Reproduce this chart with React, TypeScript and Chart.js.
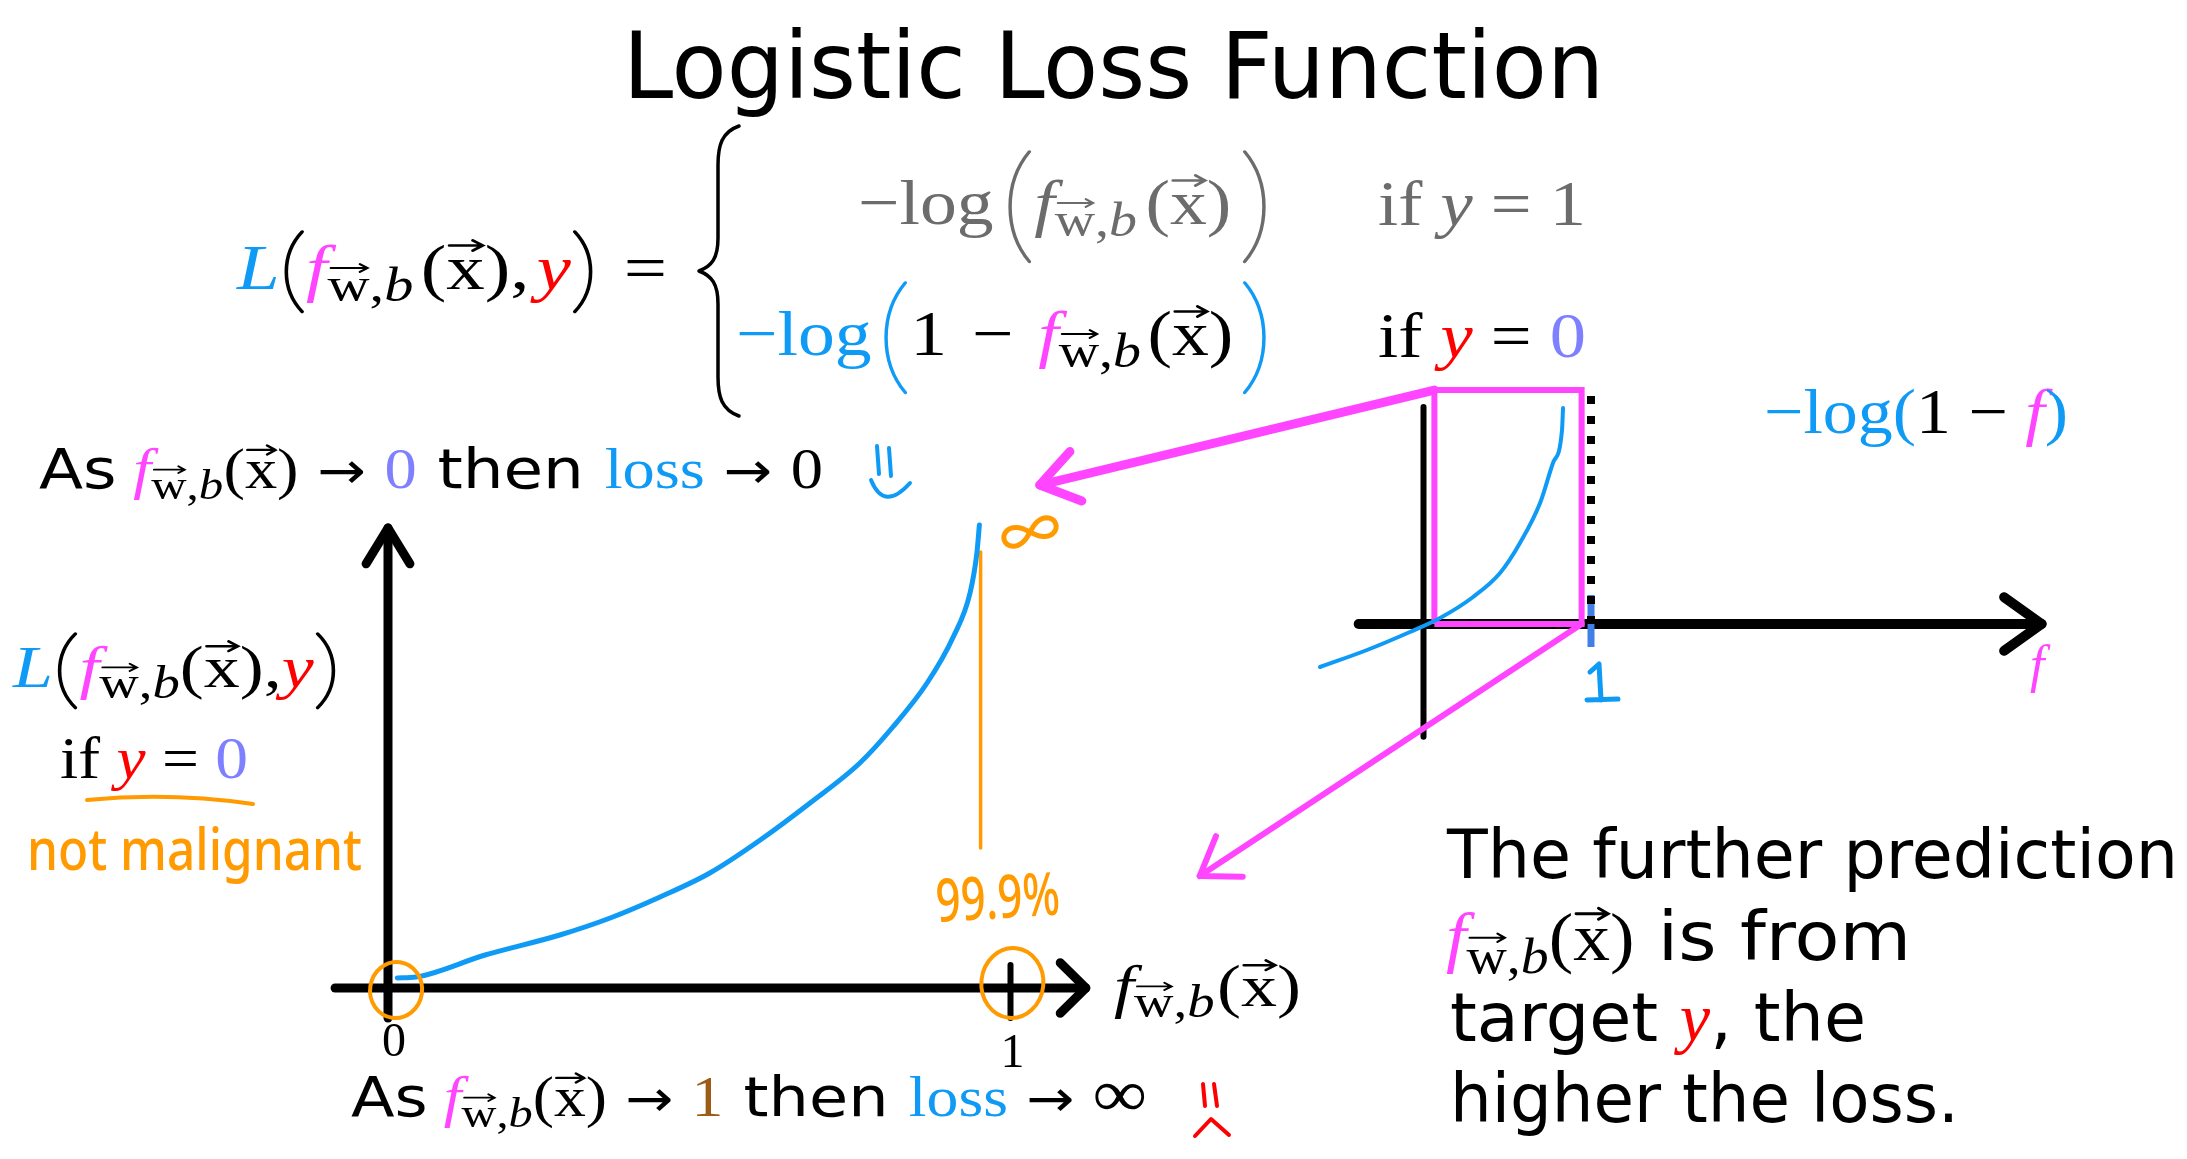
import React, { useEffect, useRef } from 'react';
import { Chart, registerables } from 'chart.js';

Chart.register(...registerables);

const W = 2187;
const H = 1159;

// ---------------- data ----------------
// main chart: loss = -log(1 - f) for y = 0 (hand drawn)
const mainF = [0.015, 0.045, 0.156, 0.276, 0.357, 0.437, 0.517, 0.598, 0.678, 0.758, 0.811, 0.866, 0.908, 0.935, 0.946, 0.95];
const mainLoss = [0.1, 0.11, 0.33, 0.53, 0.7, 0.91, 1.15, 1.48, 1.85, 2.25, 2.61, 3.05, 3.51, 3.95, 4.35, 4.63];
const mainTickValues = [0, 1];
const mainTickLabels = ['0', '1'];
// orange 99.9% guide line
const guideF = [0.952, 0.952];
const guideLoss = [1.4, 4.36];
// inset chart: -log(1 - f)
const insetF = [-0.618, -0.337, -0.081, 0.099, 0.296, 0.457, 0.576, 0.696, 0.773, 0.827, 0.833];
const insetLoss = [-0.43, -0.26, -0.08, 0.06, 0.27, 0.51, 0.81, 1.21, 1.61, 1.94, 2.16];
// pink zoom box in the inset
const zoomBoxF = [0.065, 0.065, 0.944, 0.944, 0.065];
const zoomBoxLoss = [0, 2.34, 2.34, 0, 0];
// dotted asymptote at f = 1 and the blue tick at f = 1
const asymptoteF = [1, 1];
const asymptoteLoss = [0, 2.39];
const insetTickF = [1, 1];
const insetTickLoss = [-0.23, 0.29];

// ---------------- layout / style ----------------
const MAIN = { ox: 388, oy: 988, ux: 622.5, uy: 100 };
const INSET = { ox: 1423.5, oy: 624, ux: 167.5, uy: 100 };

const BLUE = '#0f9bf5';
const PINK = '#ff45ff';
const RED = '#ff0000';
const PURPLE = '#7f80ff';
const ORANGE = '#ff9a00';
const BROWN = '#9a5c16';
const GRAY = '#6c6c6c';

const FAM = {
  sans: "'DejaVu Sans', Verdana, sans-serif",
  serif: "'Liberation Serif', 'DejaVu Serif', serif",
  hand: "'Noto Sans', 'Open Sans', sans-serif",
};

const xRange = (o: any) => ({ min: -o.ox / o.ux, max: (W - o.ox) / o.ux });
const yRange = (o: any) => ({ min: (o.oy - H) / o.uy, max: o.oy / o.uy });

function segFont(seg: any, size: number) {
  const px = size * (seg.s ?? 1);
  const k = seg.k ?? 'serif';
  if (k === 'sans') return `${px}px ${FAM.sans}`;
  if (k === 'ital') return `italic ${px}px ${FAM.serif}`;
  if (k === 'hand') return `500 ${px}px ${FAM.hand}`;
  return `${px}px ${FAM.serif}`;
}

function segWidth(ctx: CanvasRenderingContext2D, seg: any, size: number) {
  if (seg.paren) return seg.pw ?? size * 0.4;
  ctx.font = segFont(seg, size);
  return ctx.measureText(seg.t).width;
}

// draws a row of styled pieces between x0 and x1 (x1 null = natural width)
function drawRich(ctx: CanvasRenderingContext2D, segs: any[], x0: number, x1: number | null, base: number, size: number, rot = 0, maxStretch = 1.15) {
  const widths = segs.map((s) => segWidth(ctx, s, size));
  const total = widths.reduce((a, b) => a + b, 0);
  const nGaps = segs.slice(0, -1).filter((s) => !s.tight).length;
  let gs = 1;
  let gap = 0;
  if (x1 !== null) {
    const sx = (x1 - x0) / total;
    if (nGaps === 0) gs = sx;
    else {
      gs = Math.min(Math.max(sx, 0.7), maxStretch);
      gap = (x1 - x0 - total * gs) / nGaps;
    }
  }
  ctx.save();
  ctx.translate(x0, base);
  if (rot) ctx.rotate(rot);
  ctx.textBaseline = 'alphabetic';
  ctx.textAlign = 'left';
  let cx = 0;
  segs.forEach((seg, i) => {
    const w = widths[i];
    const col = seg.c ?? '#000';
    const dy = (seg.dy ?? 0) * size;
    ctx.save();
    ctx.translate(cx, 0);
    ctx.scale(gs, 1);
    if (seg.paren) {
      const h = seg.ph;
      const cy = -0.27 * size + dy;
      ctx.strokeStyle = col;
      ctx.lineWidth = seg.lw ?? 3;
      ctx.lineCap = 'round';
      ctx.beginPath();
      if (seg.paren === '(') {
        ctx.moveTo(w * 0.85, cy - h / 2);
        ctx.bezierCurveTo(w * 0.05, cy - h * 0.22, w * 0.05, cy + h * 0.22, w * 0.85, cy + h / 2);
      } else {
        ctx.moveTo(w * 0.15, cy - h / 2);
        ctx.bezierCurveTo(w * 0.95, cy - h * 0.22, w * 0.95, cy + h * 0.22, w * 0.15, cy + h / 2);
      }
      ctx.stroke();
    } else {
      ctx.font = segFont(seg, size);
      ctx.fillStyle = col;
      ctx.fillText(seg.t, 0, dy);
      if (seg.vec) {
        const px = size * (seg.s ?? 1);
        const ay = dy - 0.68 * px;
        const lw = Math.max(1.6, px * 0.042);
        ctx.strokeStyle = col;
        ctx.lineWidth = lw;
        ctx.lineCap = 'round';
        ctx.beginPath();
        ctx.moveTo(w * 0.08, ay);
        ctx.lineTo(w * 0.95, ay);
        ctx.moveTo(w * 0.95 - px * 0.13, ay - px * 0.08);
        ctx.lineTo(w * 0.95, ay);
        ctx.lineTo(w * 0.95 - px * 0.13, ay + px * 0.08);
        ctx.stroke();
      }
    }
    ctx.restore();
    cx += w * gs + (i < segs.length - 1 && !seg.tight ? gap : 0);
  });
  ctx.restore();
}

const fwb = (fc: string, tc: string, endTight = false) => [
  { t: 'f', k: 'ital', c: fc, tight: true },
  { t: 'w', c: tc, s: 0.76, dy: 0.19, vec: true, tight: true },
  { t: ',', c: tc, s: 0.76, dy: 0.19, tight: true },
  { t: 'b', k: 'ital', c: tc, s: 0.76, dy: 0.19 },
  { t: '(', c: tc, tight: true },
  { t: 'x', c: tc, vec: true, tight: true },
  { t: ')', c: tc, tight: endTight },
];

const ARROW = { t: ' \u2192 ', k: 'sans', s: 0.9 };

function arrowLine(ctx: CanvasRenderingContext2D, x1: number, y1: number, x2: number, y2: number, lw: number, col: string, head: number, ang: number) {
  ctx.save();
  ctx.strokeStyle = col;
  ctx.lineWidth = lw;
  ctx.lineCap = 'round';
  ctx.lineJoin = 'round';
  ctx.beginPath();
  ctx.moveTo(x1, y1);
  ctx.lineTo(x2, y2);
  ctx.stroke();
  const a = Math.atan2(y1 - y2, x1 - x2);
  ctx.beginPath();
  ctx.moveTo(x2 + head * Math.cos(a - ang), y2 + head * Math.sin(a - ang));
  ctx.lineTo(x2, y2);
  ctx.lineTo(x2 + head * Math.cos(a + ang), y2 + head * Math.sin(a + ang));
  ctx.stroke();
  ctx.restore();
}

function strokePath(ctx: CanvasRenderingContext2D, col: string, lw: number, build: () => void) {
  ctx.save();
  ctx.strokeStyle = col;
  ctx.lineWidth = lw;
  ctx.lineCap = 'round';
  ctx.lineJoin = 'round';
  ctx.beginPath();
  build();
  ctx.stroke();
  ctx.restore();
}

const overlay = {
  id: 'overlay',
  beforeDatasetsDraw(chart: any) {
    const ctx: CanvasRenderingContext2D = chart.ctx;
    const { x, y, x2, y2 } = chart.scales;
    // main axes
    arrowLine(ctx, x.getPixelForValue(0), y.getPixelForValue(-0.3), x.getPixelForValue(0), y.getPixelForValue(4.6), 9, '#000', 42, 0.55);
    arrowLine(ctx, x.getPixelForValue(-0.085), y.getPixelForValue(0), x.getPixelForValue(1.121), y.getPixelForValue(0), 9, '#000', 36, 0.78);
    // tick at 1
    strokePath(ctx, '#000', 6, () => {
      ctx.moveTo(x.getPixelForValue(1), y.getPixelForValue(0.23));
      ctx.lineTo(x.getPixelForValue(1), y.getPixelForValue(-0.3));
    });
    // inset axes
    strokePath(ctx, '#000', 6, () => {
      ctx.moveTo(x2.getPixelForValue(0), y2.getPixelForValue(2.17));
      ctx.lineTo(x2.getPixelForValue(0), y2.getPixelForValue(-1.127));
    });
    arrowLine(ctx, x2.getPixelForValue(-0.387), y2.getPixelForValue(0), x2.getPixelForValue(3.69), y2.getPixelForValue(0), 10, '#000', 46, 0.62);
  },
  afterDatasetsDraw(chart: any) {
    const ctx: CanvasRenderingContext2D = chart.ctx;
    const { x, y, x2, y2 } = chart.scales;

    // tick labels
    ctx.save();
    ctx.fillStyle = '#000';
    ctx.font = `48px ${FAM.serif}`;
    ctx.textAlign = 'center';
    const tickBase = [1056, 1067];
    mainTickValues.forEach((v, i) => {
      ctx.fillText(mainTickLabels[i], x.getPixelForValue(v) + (i === 0 ? 6 : 2), tickBase[i]);
    });
    ctx.restore();

    // orange circles at 0 and 1
    strokePath(ctx, ORANGE, 4, () => {
      ctx.ellipse(x.getPixelForValue(0.013), y.getPixelForValue(-0.02), 26, 28, 0.15, 0, Math.PI * 2);
    });
    strokePath(ctx, ORANGE, 4, () => {
      ctx.ellipse(x.getPixelForValue(1.003), y.getPixelForValue(0.05), 31, 35, 0.1, 0, Math.PI * 2);
    });

    // infinity sign (hand drawn)
    ctx.save();
    ctx.translate(1030, 532);
    ctx.rotate(-0.3);
    strokePath(ctx, ORANGE, 5, () => {
      for (let i = 0; i <= 80; i++) {
        const t = (i / 80) * Math.PI * 2;
        const d = 1 + Math.sin(t) * Math.sin(t);
        const px = (27 * Math.cos(t)) / d;
        const py = (26 * Math.sin(t) * Math.cos(t)) / d;
        if (i === 0) ctx.moveTo(px, py);
        else ctx.lineTo(px, py);
      }
    });
    ctx.restore();

    // pink arrows from inset box to main chart
    arrowLine(ctx, x2.getPixelForValue(0.065), y2.getPixelForValue(2.34), x.getPixelForValue(1.047), y.getPixelForValue(5.03), 9, PINK, 45, 0.6);
    arrowLine(ctx, x2.getPixelForValue(0.944), y2.getPixelForValue(0), x.getPixelForValue(1.304), y.getPixelForValue(1.12), 6, PINK, 43, 0.6);

    // blue hand-drawn "1" at the inset tick
    strokePath(ctx, BLUE, 5, () => {
      ctx.moveTo(1590, 672);
      ctx.lineTo(1599, 664);
      ctx.lineTo(1601, 700);
      ctx.moveTo(1587, 700);
      ctx.lineTo(1618, 699);
    });

    // ---- text ----
    drawRich(ctx, [{ t: 'Logistic Loss Function', k: 'sans' }], 623, 1604, 98, 92);

    // definition
    drawRich(ctx, [
      { t: 'L', k: 'ital', c: BLUE, tight: true },
      { paren: '(', ph: 80, pw: 22, tight: true },
      ...fwb(PINK, '#000', true),
      { t: ',' },
      { t: 'y', k: 'ital', c: RED, tight: true },
      { paren: ')', ph: 80, pw: 22 },
      { t: ' ', tight: true },
      { t: '=' },
    ], 237, 667, 289, 64, 0, 1.2);

    // curly brace
    strokePath(ctx, '#000', 3.5, () => {
      ctx.moveTo(739, 126);
      ctx.bezierCurveTo(722, 132, 718, 145, 718, 165);
      ctx.lineTo(718, 238);
      ctx.bezierCurveTo(718, 258, 712, 266, 699, 271);
      ctx.bezierCurveTo(712, 276, 718, 284, 718, 304);
      ctx.lineTo(718, 377);
      ctx.bezierCurveTo(718, 397, 722, 410, 739, 416);
    });

    drawRich(ctx, [
      { t: '\u2212log', c: GRAY },
      { paren: '(', ph: 110, pw: 28, c: GRAY, tight: true },
      ...fwb(GRAY, GRAY),
      { paren: ')', ph: 110, pw: 28, c: GRAY },
    ], 858, 1272, 224, 64);
    drawRich(ctx, [
      { t: 'if', c: GRAY }, { t: ' ', c: GRAY }, { t: 'y', k: 'ital', c: GRAY }, { t: ' = ', c: GRAY }, { t: '1', c: GRAY },
    ], 1378, 1586, 225, 64);

    drawRich(ctx, [
      { t: '\u2212log', c: BLUE },
      { paren: '(', ph: 110, pw: 28, c: BLUE, tight: true },
      { t: '1' },
      { t: ' \u2212 ' },
      ...fwb(PINK, '#000'),
      { paren: ')', ph: 110, pw: 28, c: BLUE },
    ], 736, 1272, 355, 64);
    drawRich(ctx, [
      { t: 'if' }, { t: ' ' }, { t: 'y', k: 'ital', c: RED }, { t: ' = ' }, { t: '0', c: PURPLE },
    ], 1378, 1586, 357, 64);

    // top statement
    drawRich(ctx, [
      { t: 'As', k: 'sans' }, { t: ' ' },
      ...fwb(PINK, '#000'),
      ARROW, { t: '0', c: PURPLE },
      { t: ' then ', k: 'sans' },
      { t: 'loss', c: BLUE },
      ARROW, { t: '0' },
    ], 39, 823, 488, 56);

    // blue doodle
    strokePath(ctx, BLUE, 4, () => {
      ctx.moveTo(877, 446); ctx.lineTo(879, 474);
      ctx.moveTo(889, 448); ctx.lineTo(891, 476);
      ctx.moveTo(871, 480);
      ctx.quadraticCurveTo(884, 512, 910, 483);
    });

    // bottom statement
    drawRich(ctx, [
      { t: 'As', k: 'sans' }, { t: ' ' },
      ...fwb(PINK, '#000'),
      ARROW, { t: '1', c: BROWN },
      { t: ' then ', k: 'sans' },
      { t: 'loss', c: BLUE },
      ARROW, { t: '\u221e', s: 1.2 },
    ], 351, 1147, 1116, 56);

    // red doodle
    strokePath(ctx, RED, 4, () => {
      ctx.moveTo(1203, 1084); ctx.lineTo(1205, 1106);
      ctx.moveTo(1214, 1084); ctx.lineTo(1217, 1106);
      ctx.moveTo(1195, 1136);
      ctx.lineTo(1211, 1119);
      ctx.lineTo(1229, 1135);
    });

    // left axis label
    drawRich(ctx, [
      { t: 'L', k: 'ital', c: BLUE, tight: true },
      { paren: '(', ph: 74, pw: 22, tight: true },
      ...fwb(PINK, '#000', true),
      { t: ',' },
      { t: 'y', k: 'ital', c: RED, tight: true },
      { paren: ')', ph: 74, pw: 22 },
    ], 13, 340, 687, 60, 0, 1.2);
    drawRich(ctx, [
      { t: 'if' }, { t: ' ' }, { t: 'y', k: 'ital', c: RED }, { t: ' = ' }, { t: '0', c: PURPLE },
    ], 60, 248, 778, 60);
    strokePath(ctx, ORANGE, 4, () => {
      ctx.moveTo(87, 800);
      ctx.quadraticCurveTo(170, 792, 253, 804);
    });
    drawRich(ctx, [{ t: 'not malignant', k: 'hand', c: ORANGE }], 27, 362, 870, 58);

    // 99.9%
    drawRich(ctx, [{ t: '99.9%', k: 'hand', c: ORANGE }], 937, 1061, 922, 60, -0.06);

    // x axis label
    drawRich(ctx, fwb('#000', '#000'), 1114, 1301, 1006, 60, 0, 1.2);

    // inset label
    drawRich(ctx, [
      { t: '\u2212log', c: BLUE, tight: true },
      { t: '(', c: BLUE, tight: true },
      { t: '1' },
      { t: ' \u2212 ' },
      { t: 'f', k: 'ital', c: PINK },
      { t: ')', c: BLUE },
    ], 1764, 2068, 433, 64);
    drawRich(ctx, [{ t: 'f', k: 'ital', c: PINK }], 2030, null, 682, 52);

    // right explanation
    drawRich(ctx, [{ t: 'The further prediction', k: 'sans' }], 1447, 2178, 878, 68);
    drawRich(ctx, [...fwb(PINK, '#000'), { t: ' is from', k: 'sans' }], 1446, 1911, 960, 68);
    drawRich(ctx, [{ t: 'target ', k: 'sans' }, { t: 'y', k: 'ital', c: RED }, { t: ', the', k: 'sans' }], 1450, 1866, 1041, 68);
    drawRich(ctx, [{ t: 'higher the loss.', k: 'sans' }], 1450, 1959, 1122, 68);
  },
};

const pts = (xs: number[], ys: number[]) => xs.map((v, i) => ({ x: v, y: ys[i] }));

export default function App() {
  const ref = useRef<HTMLCanvasElement>(null);
  useEffect(() => {
    document.body.style.margin = '0';
    const canvas = ref.current;
    if (!canvas) return;
    const mx = xRange(MAIN);
    const my = yRange(MAIN);
    const ix = xRange(INSET);
    const iy = yRange(INSET);
    const base = { pointRadius: 0, fill: false, tension: 0 };
    const chart = new Chart(canvas, {
      type: 'line',
      data: {
        datasets: [
          { ...base, label: 'loss', data: pts(mainF, mainLoss), xAxisID: 'x', yAxisID: 'y', borderColor: BLUE, borderWidth: 5, cubicInterpolationMode: 'monotone', borderCapStyle: 'round' },
          { ...base, label: 'guide', data: pts(guideF, guideLoss), xAxisID: 'x', yAxisID: 'y', borderColor: ORANGE, borderWidth: 3.5, borderCapStyle: 'round' },
          { ...base, label: 'inset', data: pts(insetF, insetLoss), xAxisID: 'x2', yAxisID: 'y2', borderColor: BLUE, borderWidth: 4, cubicInterpolationMode: 'monotone', borderCapStyle: 'round' },
          { ...base, label: 'box', data: pts(zoomBoxF, zoomBoxLoss), xAxisID: 'x2', yAxisID: 'y2', borderColor: PINK, borderWidth: 6, borderJoinStyle: 'miter' },
          { ...base, label: 'asymptote', data: pts(asymptoteF, asymptoteLoss), xAxisID: 'x2', yAxisID: 'y2', borderColor: '#000', borderWidth: 8, borderDash: [8, 12] },
          { ...base, label: 'tick1', data: pts(insetTickF, insetTickLoss), xAxisID: 'x2', yAxisID: 'y2', borderColor: '#3f7fe6', borderWidth: 7 },
        ],
      },
      options: {
        responsive: false,
        animation: false,
        devicePixelRatio: 1,
        events: [],
        layout: { padding: 0 },
        plugins: { legend: { display: false }, tooltip: { enabled: false }, title: { display: false } },
        scales: {
          x: { type: 'linear', display: false, min: mx.min, max: mx.max },
          y: { type: 'linear', display: false, min: my.min, max: my.max },
          x2: { type: 'linear', axis: 'x', display: false, min: ix.min, max: ix.max },
          y2: { type: 'linear', axis: 'y', display: false, min: iy.min, max: iy.max },
        },
      } as any,
      plugins: [overlay as any],
    });
    return () => chart.destroy();
  }, []);
  return (
    <div style={{ position: 'fixed', left: 0, top: 0, width: W, height: H, background: '#fff' }}>
      <canvas ref={ref} width={W} height={H} style={{ display: 'block', width: W, height: H }} />
    </div>
  );
}
